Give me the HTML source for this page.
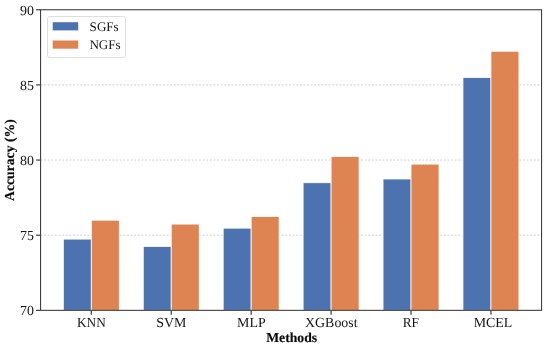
<!DOCTYPE html>
<html><head><meta charset="utf-8"><title>Accuracy by Methods</title>
<style>
html,body{margin:0;padding:0;background:#fff;}
body{width:550px;height:347px;overflow:hidden;}
svg{display:block;}
text{text-rendering:geometricPrecision;font-family:"Liberation Serif","Times New Roman",serif;fill:#151515;}
.t{font-size:13.9px;}
.lg{font-size:13.1px;}
.b{font-size:13.7px;font-weight:bold;fill:#0a0a0a;stroke:#0a0a0a;stroke-width:0.15px;}
</style></head><body>
<svg width="550" height="347" viewBox="0 0 550 347">
<rect width="550" height="347" fill="#fff"/>
<line x1="40.55" x2="541.55" y1="235.20" y2="235.20" stroke="#c0c0c0" stroke-width="0.75" stroke-dasharray="2 1.6"/>
<line x1="40.55" x2="541.55" y1="160.05" y2="160.05" stroke="#c0c0c0" stroke-width="0.75" stroke-dasharray="2 1.6"/>
<line x1="40.55" x2="541.55" y1="84.90" y2="84.90" stroke="#c0c0c0" stroke-width="0.75" stroke-dasharray="2 1.6"/>
<rect x="63.32" y="239.11" width="27.98" height="71.24" fill="#4c72b0" stroke="#fff" stroke-width="0.8"/>
<rect x="91.30" y="220.17" width="27.98" height="90.18" fill="#dd8452" stroke="#fff" stroke-width="0.8"/>
<rect x="143.25" y="246.47" width="27.98" height="63.88" fill="#4c72b0" stroke="#fff" stroke-width="0.8"/>
<rect x="171.23" y="224.08" width="27.98" height="86.27" fill="#dd8452" stroke="#fff" stroke-width="0.8"/>
<rect x="223.18" y="228.14" width="27.98" height="82.21" fill="#4c72b0" stroke="#fff" stroke-width="0.8"/>
<rect x="251.16" y="216.56" width="27.98" height="93.79" fill="#dd8452" stroke="#fff" stroke-width="0.8"/>
<rect x="303.11" y="182.75" width="27.98" height="127.60" fill="#4c72b0" stroke="#fff" stroke-width="0.8"/>
<rect x="331.09" y="156.59" width="27.98" height="153.76" fill="#dd8452" stroke="#fff" stroke-width="0.8"/>
<rect x="383.04" y="178.99" width="27.98" height="131.36" fill="#4c72b0" stroke="#fff" stroke-width="0.8"/>
<rect x="411.02" y="164.11" width="27.98" height="146.24" fill="#dd8452" stroke="#fff" stroke-width="0.8"/>
<rect x="462.97" y="77.54" width="27.98" height="232.81" fill="#4c72b0" stroke="#fff" stroke-width="0.8"/>
<rect x="490.95" y="51.23" width="27.98" height="259.12" fill="#dd8452" stroke="#fff" stroke-width="0.8"/>
<line x1="91.30" x2="91.30" y1="310.35" y2="314.75" stroke="#2a2a2a" stroke-width="1.1"/>
<text class="t" transform="translate(91.40 326.55) scale(0.955 1)" text-anchor="middle">KNN</text>
<line x1="171.23" x2="171.23" y1="310.35" y2="314.75" stroke="#2a2a2a" stroke-width="1.1"/>
<text class="t" transform="translate(171.23 326.55) scale(1 1)" text-anchor="middle">SVM</text>
<line x1="251.16" x2="251.16" y1="310.35" y2="314.75" stroke="#2a2a2a" stroke-width="1.1"/>
<text class="t" transform="translate(251.36 326.55) scale(1 1)" text-anchor="middle">MLP</text>
<line x1="331.09" x2="331.09" y1="310.35" y2="314.75" stroke="#2a2a2a" stroke-width="1.1"/>
<text class="t" transform="translate(331.29 326.55) scale(1 1)" text-anchor="middle">XGBoost</text>
<line x1="411.02" x2="411.02" y1="310.35" y2="314.75" stroke="#2a2a2a" stroke-width="1.1"/>
<text class="t" transform="translate(410.82 326.55) scale(0.96 1)" text-anchor="middle">RF</text>
<line x1="490.95" x2="490.95" y1="310.35" y2="314.75" stroke="#2a2a2a" stroke-width="1.1"/>
<text class="t" transform="translate(493.05 326.55) scale(1 1)" text-anchor="middle">MCEL</text>
<line x1="36.15" x2="40.55" y1="310.35" y2="310.35" stroke="#2a2a2a" stroke-width="1.1"/>
<text class="t" x="33.95" y="315.45" text-anchor="end">70</text>
<line x1="36.15" x2="40.55" y1="235.20" y2="235.20" stroke="#2a2a2a" stroke-width="1.1"/>
<text class="t" x="33.95" y="240.30" text-anchor="end">75</text>
<line x1="36.15" x2="40.55" y1="160.05" y2="160.05" stroke="#2a2a2a" stroke-width="1.1"/>
<text class="t" x="33.95" y="165.15" text-anchor="end">80</text>
<line x1="36.15" x2="40.55" y1="84.90" y2="84.90" stroke="#2a2a2a" stroke-width="1.1"/>
<text class="t" x="33.95" y="90.00" text-anchor="end">85</text>
<line x1="36.15" x2="40.55" y1="9.75" y2="9.75" stroke="#2a2a2a" stroke-width="1.1"/>
<text class="t" x="33.95" y="14.85" text-anchor="end">90</text>
<rect x="40.55" y="9.75" width="501.00" height="300.60" fill="none" stroke="#404040" stroke-width="1.1"/>
<rect x="47.5" y="16.5" width="78" height="41" rx="2.2" ry="2.2" fill="#fff" fill-opacity="0.8" stroke="#dadada" stroke-width="0.9"/>
<rect x="52.7" y="22.2" width="25.5" height="8.2" fill="#4c72b0"/>
<rect x="52.7" y="40.5" width="25.5" height="8.2" fill="#dd8452"/>
<text class="t lg" x="89.6" y="30.9">SGFs</text>
<text class="t lg" x="89.4" y="49.2">NGFs</text>
<text class="b" x="291.65" y="342.3" text-anchor="middle">Methods</text>
<text class="b" transform="translate(14.1 160.15) rotate(-90)" text-anchor="middle">Accuracy (%)</text>
</svg></body></html>
